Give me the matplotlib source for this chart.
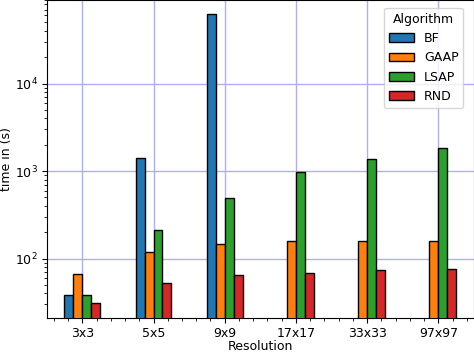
import matplotlib
matplotlib.use('Agg')
import matplotlib.pyplot as plt
import numpy as np
from matplotlib.ticker import AutoMinorLocator

# data (seconds)
resolutions = ['3x3', '5x5', '9x9', '17x17', '33x33', '97x97']
algorithms = ['BF', 'GAAP', 'LSAP', 'RND']
bf = [38, 1430, 61500, np.nan, np.nan, np.nan]
gaap = [67, 118, 146, 158, 158, 160]
lsap = [38, 213, 495, 964, 1380, 1860]
rnd = [31, 53, 65, 69, 74, 76]
colors = ['#1f77b4', '#ff7f0e', '#2ca02c', '#d62728']

fig = plt.figure(figsize=(4.74, 3.52), dpi=100)
ax = fig.add_axes([0.0985, 0.0966, 0.9015, 0.9034])

x = np.arange(len(resolutions))
width = 0.125
series = [bf, gaap, lsap, rnd]
for i, (name, vals) in enumerate(zip(algorithms, series)):
    ax.bar(x + (i - 1.5) * width, vals, width, color=colors[i],
           edgecolor='black', linewidth=1.0, label=name, zorder=3)

ax.set_yscale('log')
ax.set_ylim(21, 9.0e4)
ax.set_xlim(-0.5, 5.5)
ax.set_xticks(x)
ax.set_xticklabels(resolutions)
ax.xaxis.set_minor_locator(AutoMinorLocator(5))
ax.tick_params(labelsize=9, pad=3)
ax.grid(True, which='major', color='#aeaef5', linewidth=1.0, snap=True)
ax.set_axisbelow(True)

ax.set_xlabel('Resolution', fontsize=9, labelpad=0)
ax.set_ylabel('time in (s)', fontsize=9, labelpad=1)

ax.legend(title='Algorithm', loc='upper right', fontsize=9, title_fontsize=9,
          bbox_to_anchor=(0.99, 0.995))

fig.savefig('out.png', dpi=100)
